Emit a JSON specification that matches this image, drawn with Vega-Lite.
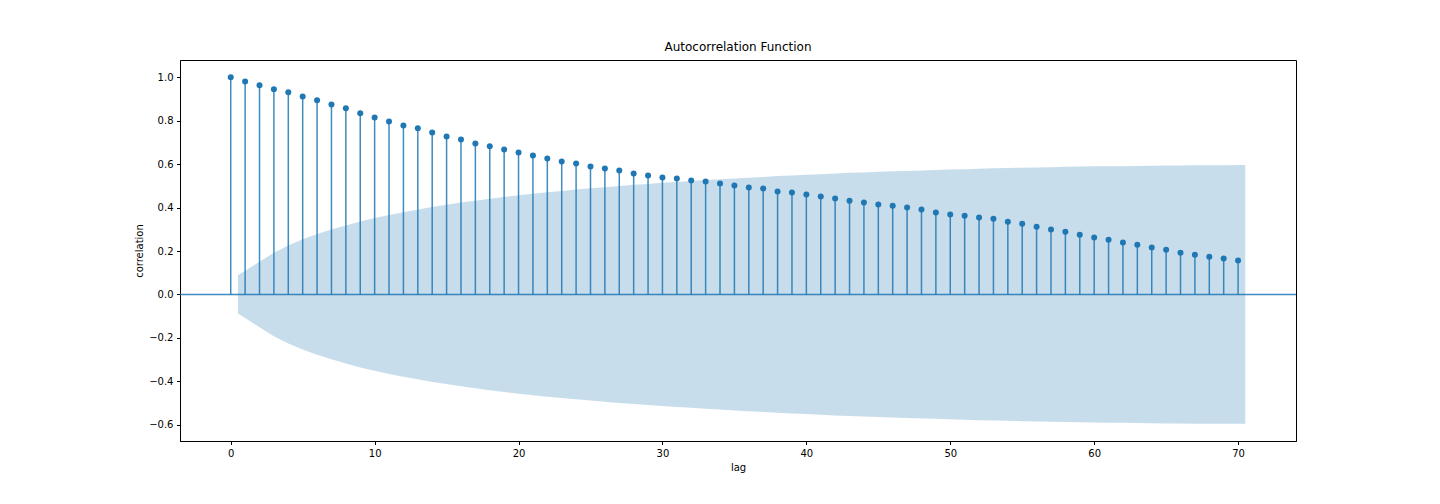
{
  "$schema": "https://vega.github.io/schema/vega-lite/v6.json",
  "width": 1116,
  "height": 381,
  "autosize": {"type": "none"},
  "padding": {"left": 180, "top": 60, "right": 144, "bottom": 63},
  "title": {
    "text": "Autocorrelation Function",
    "font": "DejaVu Sans",
    "fontSize": 12,
    "fontWeight": "normal",
    "color": "#000",
    "offset": 6
  },
  "datasets": {
    "acf": [
      {"lag": 0, "acf": 1.0}, {"lag": 1, "acf": 0.981}, {"lag": 2, "acf": 0.963},
      {"lag": 3, "acf": 0.945}, {"lag": 4, "acf": 0.931}, {"lag": 5, "acf": 0.912},
      {"lag": 6, "acf": 0.894}, {"lag": 7, "acf": 0.875}, {"lag": 8, "acf": 0.857},
      {"lag": 9, "acf": 0.834}, {"lag": 10, "acf": 0.815}, {"lag": 11, "acf": 0.797},
      {"lag": 12, "acf": 0.778}, {"lag": 13, "acf": 0.765}, {"lag": 14, "acf": 0.746},
      {"lag": 15, "acf": 0.728}, {"lag": 16, "acf": 0.714}, {"lag": 17, "acf": 0.695},
      {"lag": 18, "acf": 0.682}, {"lag": 19, "acf": 0.668}, {"lag": 20, "acf": 0.654},
      {"lag": 21, "acf": 0.64}, {"lag": 22, "acf": 0.626}, {"lag": 23, "acf": 0.612},
      {"lag": 24, "acf": 0.603}, {"lag": 25, "acf": 0.589}, {"lag": 26, "acf": 0.58},
      {"lag": 27, "acf": 0.571}, {"lag": 28, "acf": 0.557}, {"lag": 29, "acf": 0.548},
      {"lag": 30, "acf": 0.539}, {"lag": 31, "acf": 0.534}, {"lag": 32, "acf": 0.525},
      {"lag": 33, "acf": 0.52}, {"lag": 34, "acf": 0.511}, {"lag": 35, "acf": 0.502},
      {"lag": 36, "acf": 0.492}, {"lag": 37, "acf": 0.488}, {"lag": 38, "acf": 0.474},
      {"lag": 39, "acf": 0.469}, {"lag": 40, "acf": 0.46}, {"lag": 41, "acf": 0.451},
      {"lag": 42, "acf": 0.442}, {"lag": 43, "acf": 0.432}, {"lag": 44, "acf": 0.423},
      {"lag": 45, "acf": 0.414}, {"lag": 46, "acf": 0.409}, {"lag": 47, "acf": 0.4},
      {"lag": 48, "acf": 0.391}, {"lag": 49, "acf": 0.377}, {"lag": 50, "acf": 0.368},
      {"lag": 51, "acf": 0.363}, {"lag": 52, "acf": 0.354}, {"lag": 53, "acf": 0.349},
      {"lag": 54, "acf": 0.335}, {"lag": 55, "acf": 0.326}, {"lag": 56, "acf": 0.312},
      {"lag": 57, "acf": 0.299}, {"lag": 58, "acf": 0.289}, {"lag": 59, "acf": 0.275},
      {"lag": 60, "acf": 0.262}, {"lag": 61, "acf": 0.252}, {"lag": 62, "acf": 0.239},
      {"lag": 63, "acf": 0.229}, {"lag": 64, "acf": 0.216}, {"lag": 65, "acf": 0.206},
      {"lag": 66, "acf": 0.192}, {"lag": 67, "acf": 0.183}, {"lag": 68, "acf": 0.174},
      {"lag": 69, "acf": 0.165}, {"lag": 70, "acf": 0.156}
    ],
    "band": [
      {"x": 0.5, "lo": -0.088, "hi": 0.088}, {"x": 2, "lo": -0.151, "hi": 0.151},
      {"x": 3, "lo": -0.192, "hi": 0.192}, {"x": 4, "lo": -0.226, "hi": 0.226},
      {"x": 5, "lo": -0.254, "hi": 0.254}, {"x": 6, "lo": -0.278, "hi": 0.278},
      {"x": 7, "lo": -0.299, "hi": 0.299}, {"x": 8, "lo": -0.318, "hi": 0.318},
      {"x": 9, "lo": -0.336, "hi": 0.336}, {"x": 10, "lo": -0.352, "hi": 0.352},
      {"x": 11, "lo": -0.366, "hi": 0.366}, {"x": 12, "lo": -0.379, "hi": 0.379},
      {"x": 13, "lo": -0.391, "hi": 0.391}, {"x": 14, "lo": -0.403, "hi": 0.403},
      {"x": 15, "lo": -0.413, "hi": 0.413}, {"x": 16, "lo": -0.423, "hi": 0.423},
      {"x": 17, "lo": -0.432, "hi": 0.432}, {"x": 18, "lo": -0.441, "hi": 0.441},
      {"x": 19, "lo": -0.449, "hi": 0.449}, {"x": 20, "lo": -0.457, "hi": 0.457},
      {"x": 21, "lo": -0.464, "hi": 0.464}, {"x": 22, "lo": -0.471, "hi": 0.471},
      {"x": 23, "lo": -0.477, "hi": 0.477}, {"x": 24, "lo": -0.483, "hi": 0.483},
      {"x": 25, "lo": -0.489, "hi": 0.489}, {"x": 26, "lo": -0.494, "hi": 0.494},
      {"x": 27, "lo": -0.5, "hi": 0.5}, {"x": 28, "lo": -0.505, "hi": 0.505},
      {"x": 29, "lo": -0.509, "hi": 0.509}, {"x": 30, "lo": -0.514, "hi": 0.514},
      {"x": 31, "lo": -0.518, "hi": 0.518}, {"x": 32, "lo": -0.522, "hi": 0.522},
      {"x": 33, "lo": -0.527, "hi": 0.527}, {"x": 34, "lo": -0.53, "hi": 0.53},
      {"x": 35, "lo": -0.534, "hi": 0.534}, {"x": 36, "lo": -0.538, "hi": 0.538},
      {"x": 37, "lo": -0.541, "hi": 0.541}, {"x": 38, "lo": -0.545, "hi": 0.545},
      {"x": 39, "lo": -0.548, "hi": 0.548}, {"x": 40, "lo": -0.551, "hi": 0.551},
      {"x": 41, "lo": -0.554, "hi": 0.554}, {"x": 42, "lo": -0.557, "hi": 0.557},
      {"x": 43, "lo": -0.56, "hi": 0.56}, {"x": 44, "lo": -0.562, "hi": 0.562},
      {"x": 45, "lo": -0.565, "hi": 0.565}, {"x": 46, "lo": -0.567, "hi": 0.567},
      {"x": 47, "lo": -0.569, "hi": 0.569}, {"x": 48, "lo": -0.571, "hi": 0.571},
      {"x": 49, "lo": -0.573, "hi": 0.573}, {"x": 50, "lo": -0.575, "hi": 0.575},
      {"x": 51, "lo": -0.577, "hi": 0.577}, {"x": 52, "lo": -0.579, "hi": 0.579},
      {"x": 53, "lo": -0.581, "hi": 0.581}, {"x": 54, "lo": -0.582, "hi": 0.582},
      {"x": 55, "lo": -0.584, "hi": 0.584}, {"x": 56, "lo": -0.585, "hi": 0.585},
      {"x": 57, "lo": -0.586, "hi": 0.586}, {"x": 58, "lo": -0.588, "hi": 0.588},
      {"x": 59, "lo": -0.589, "hi": 0.589}, {"x": 60, "lo": -0.59, "hi": 0.59},
      {"x": 61, "lo": -0.591, "hi": 0.591}, {"x": 62, "lo": -0.591, "hi": 0.591},
      {"x": 63, "lo": -0.592, "hi": 0.592}, {"x": 64, "lo": -0.593, "hi": 0.593},
      {"x": 65, "lo": -0.594, "hi": 0.594}, {"x": 66, "lo": -0.594, "hi": 0.594},
      {"x": 67, "lo": -0.595, "hi": 0.595}, {"x": 68, "lo": -0.595, "hi": 0.595},
      {"x": 69, "lo": -0.595, "hi": 0.595}, {"x": 70.5, "lo": -0.596, "hi": 0.596}
    ]
  },
  "layer": [
    {
      "data": {"name": "band"},
      "mark": {"type": "area", "color": "#1f77b4", "opacity": 0.25},
      "encoding": {
        "x": {
          "field": "x",
          "type": "quantitative",
          "title": "lag",
          "scale": {"domain": [-3.525, 74.025], "nice": false, "zero": false},
          "axis": {"values": [0, 10, 20, 30, 40, 50, 60, 70], "format": "d"}
        },
        "y": {
          "field": "lo",
          "type": "quantitative",
          "title": "correlation",
          "scale": {"domain": [-0.675, 1.0798], "nice": false, "zero": false},
          "axis": {"values": [-0.6, -0.4, -0.2, 0, 0.2, 0.4, 0.6, 0.8, 1.0], "format": ".1f"}
        },
        "y2": {"field": "hi"}
      }
    },
    {
      "data": {"name": "acf"},
      "mark": {"type": "rule", "color": "#1f77b4", "strokeWidth": 1.5, "opacity": 0.85},
      "encoding": {
        "x": {"field": "lag", "type": "quantitative", "title": "lag"},
        "y": {"field": "acf", "type": "quantitative", "title": "correlation"},
        "y2": {"datum": 0}
      }
    },
    {
      "data": {"name": "acf"},
      "mark": {"type": "circle", "color": "#1f77b4", "opacity": 1, "size": 36},
      "encoding": {
        "x": {"field": "lag", "type": "quantitative", "title": "lag"},
        "y": {"field": "acf", "type": "quantitative", "title": "correlation"}
      }
    },
    {
      "data": {"values": [{"level": 0}]},
      "mark": {"type": "rule", "color": "#1f77b4", "strokeWidth": 1.5, "opacity": 0.85},
      "encoding": {
        "y": {"field": "level", "type": "quantitative", "title": "correlation"}
      }
    }
  ],
  "config": {
    "view": {"stroke": "#000", "strokeWidth": 1},
    "axis": {
      "grid": false,
      "domainColor": "#000",
      "tickColor": "#000",
      "tickSize": 3.5,
      "labelPadding": 3.5,
      "labelFont": "DejaVu Sans",
      "labelFontSize": 10,
      "labelColor": "#000",
      "titleFont": "DejaVu Sans",
      "titleFontSize": 10,
      "titleFontWeight": "normal",
      "titleColor": "#000",
      "titlePadding": 4
    }
  }
}
